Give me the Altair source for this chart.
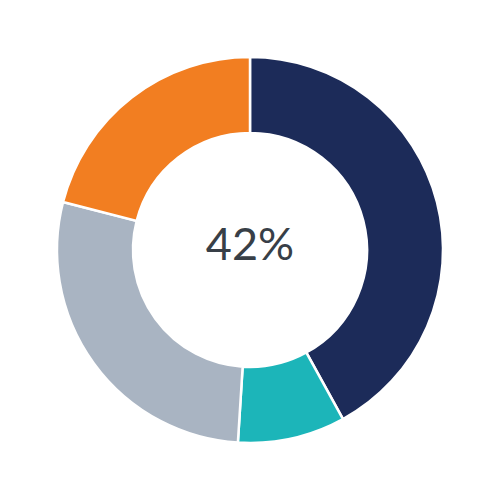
import pandas as pd
import altair as alt

segments = ["Navy", "Teal", "Gray", "Orange"]
shares = [42, 9, 28, 21]
colours = ["#1c2b59", "#1cb5b9", "#a9b4c2", "#f27e21"]
centre_label = ["42%"]

df = pd.DataFrame({"segment": segments, "share": shares, "order": range(len(segments))})

donut = alt.Chart(df).mark_arc(
    outerRadius=193, innerRadius=117, stroke="white", strokeWidth=2.5
).encode(
    theta=alt.Theta("share:Q", stack=True),
    order=alt.Order("order:Q"),
    color=alt.Color("segment:N", scale=alt.Scale(domain=segments, range=colours), legend=None),
)

label = alt.Chart(pd.DataFrame({"label": centre_label})).mark_text(
    font="Lato", fontWeight=400, fontSize=45, color="#383f47", baseline="middle", align="center"
).encode(
    text="label:N",
    x=alt.value(242),
    y=alt.value(238),
)

chart = (donut + label).properties(
    width=484, height=484, padding=0, autosize=alt.AutoSizeParams(type="none")
).configure_view(stroke=None)

chart.save("out.html", embed_options={"renderer": "svg", "actions": False})
